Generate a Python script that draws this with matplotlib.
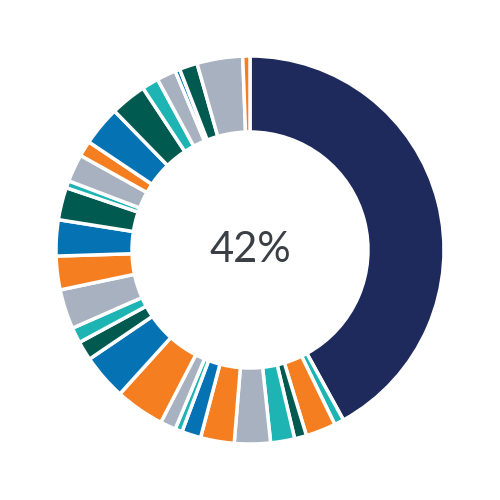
import matplotlib.pyplot as plt

navy = "#1d2a5b"
orange = "#f47e20"
gray = "#a8b1bf"
teal = "#1fb4b4"
dkgreen = "#015a50"
blue = "#0572b4"

values = [42, 0.8, 2.5, 1.0, 2.0, 3.0, 2.8, 1.6, 0.6, 1.3, 4.1, 3.8, 1.6, 1.3, 3.3,
          2.8, 3.0, 2.7, 0.6, 2.3, 1.3, 3.3, 3.0, 1.4, 1.6, 0.4, 1.5, 3.8, 0.6]
colors = [navy, teal, orange, dkgreen, teal, gray, orange, blue, teal, gray, orange,
          blue, dkgreen, teal, gray, orange, blue, dkgreen, teal, gray, orange, blue,
          dkgreen, teal, gray, blue, dkgreen, gray, orange]

fig, ax = plt.subplots(figsize=(5, 5), dpi=100)
fig.subplots_adjust(0, 0, 1, 1)
ax.pie(values, colors=colors, startangle=90, counterclock=False,
       radius=0.97, wedgeprops=dict(width=0.38, edgecolor="white", linewidth=2.5))
ax.text(0, 0, "42%", ha="center", va="center", fontsize=30, color="#3a3f45",
        family="Lato")
ax.set_xlim(-1.25, 1.25)
ax.set_ylim(-1.25, 1.25)
ax.set_aspect("equal")
ax.axis("off")
fig.savefig("out.png")
